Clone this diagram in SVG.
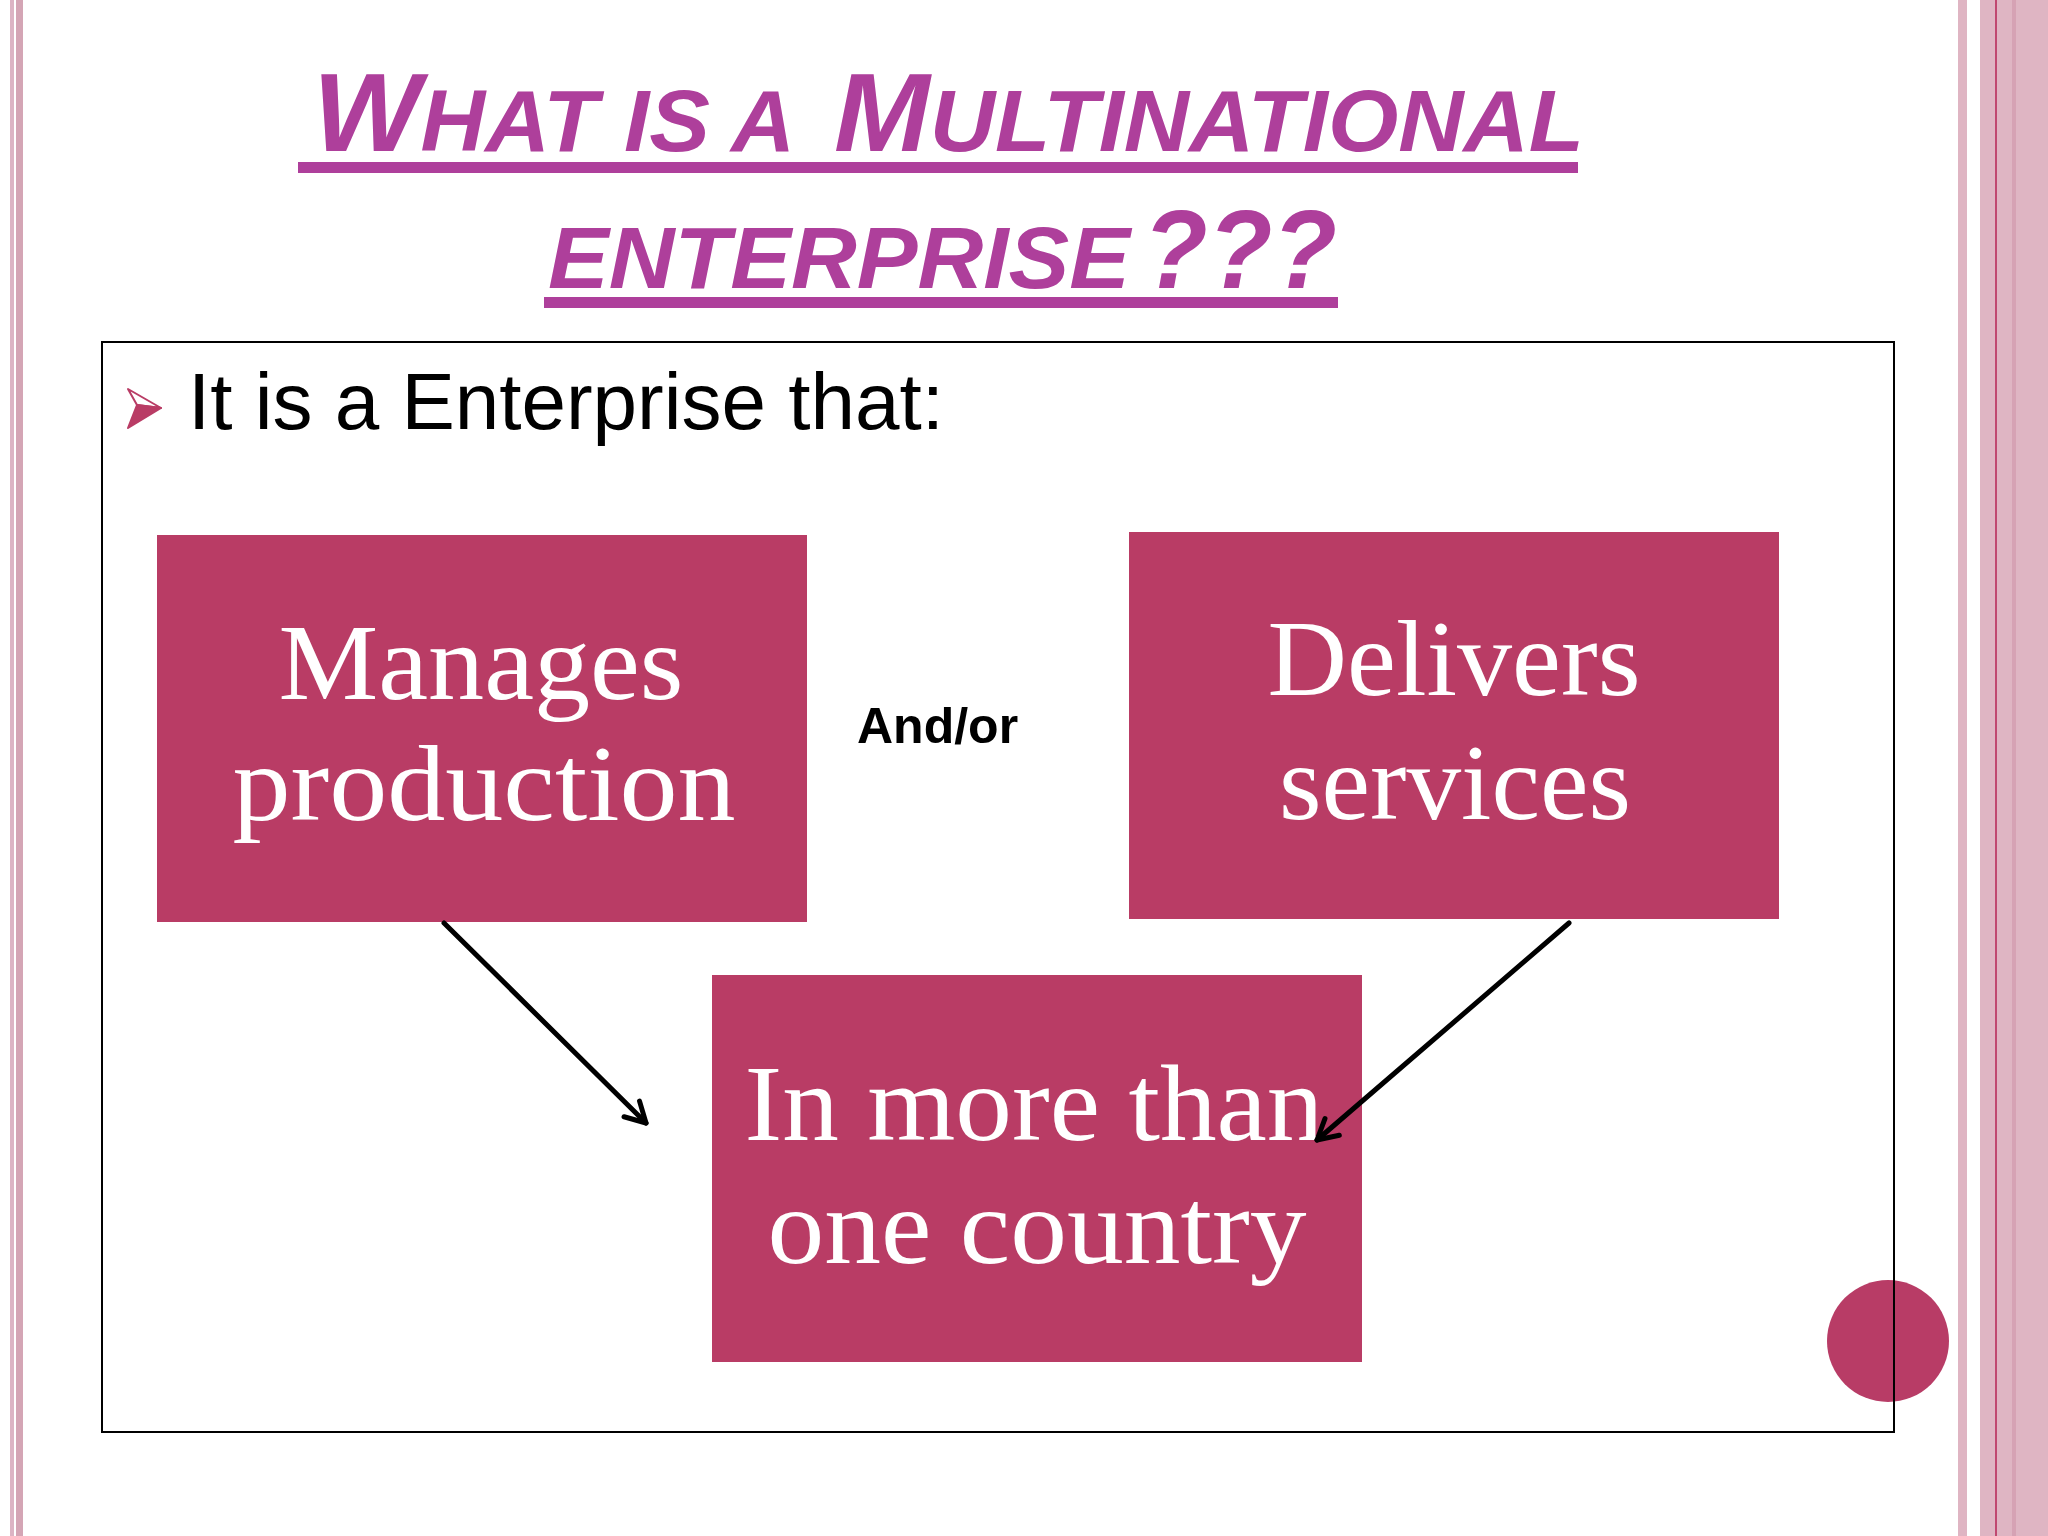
<svg xmlns="http://www.w3.org/2000/svg" width="2048" height="1536" viewBox="0 0 2048 1536">
<style>
.title{font-family:"Liberation Sans",Arial,sans-serif;font-weight:bold;font-style:italic;fill:#ae3f9b}
.box{fill:#b93c65}
.btxt{font-family:"Liberation Serif","Times New Roman",serif;font-size:108px;fill:#ffffff;text-anchor:middle}
.stripe{fill:#dfb5c3}
</style>
<defs>
<marker id="arr" viewBox="0 0 30 30" refX="26" refY="15" markerWidth="30" markerHeight="30" markerUnits="userSpaceOnUse" orient="auto">
<path d="M6,4 L26,15 L6,26" fill="none" stroke="#000" stroke-width="5" stroke-linecap="round" stroke-linejoin="round"/>
</marker>
</defs>
<rect width="2048" height="1536" fill="#ffffff"/>
<g id="frame">
<rect x="10" y="0" width="4" height="1536" fill="#dcb4c4"/>
<rect x="16" y="0" width="7" height="1536" fill="#d4a5b5"/>
<rect x="1958" y="0" width="9" height="1536" class="stripe"/>
<rect x="1980" y="0" width="15" height="1536" class="stripe"/>
<rect x="1995" y="0" width="2" height="1536" fill="#c04870"/>
<rect x="1997" y="0" width="15" height="1536" class="stripe"/>
<rect x="2012" y="0" width="4" height="1536" fill="#d6a2b4"/>
<rect x="2016" y="0" width="32" height="1536" class="stripe"/>
</g>
<g id="title">
<text class="title" x="313" y="151" textLength="285" lengthAdjust="spacingAndGlyphs"><tspan font-size="112">W</tspan><tspan font-size="88">HAT</tspan></text>
<text class="title" x="624" y="151" font-size="88" textLength="86" lengthAdjust="spacingAndGlyphs">IS</text>
<text class="title" x="731" y="151" font-size="88" textLength="64" lengthAdjust="spacingAndGlyphs">A</text>
<text class="title" x="834" y="151" textLength="750" lengthAdjust="spacingAndGlyphs"><tspan font-size="112">M</tspan><tspan font-size="88">ULTINATIONAL</tspan></text>
<rect x="298" y="162" width="1280" height="11" fill="#ae3f9b"/>
<text class="title" x="548" y="288" font-size="88" textLength="582" lengthAdjust="spacingAndGlyphs">ENTERPRISE</text>
<text class="title" x="1143" y="288" font-size="112" textLength="194" lengthAdjust="spacingAndGlyphs">???</text>
<rect x="544" y="297" width="794" height="11" fill="#ae3f9b"/>
</g>
<circle id="dot" cx="1888" cy="1341" r="61" fill="#b83c66"/>
<rect id="content" x="102" y="342" width="1792" height="1090" fill="none" stroke="#000" stroke-width="2"/>
<g id="bullet">
<path d="M128,389 L161,408 L137,405 Z" fill="#ffffff" stroke="#b93c65" stroke-width="2" stroke-linejoin="round"/>
<path d="M137,405 L161,408 L128,428 Z" fill="#b93c65" stroke="#b93c65" stroke-width="2" stroke-linejoin="round"/>
<text x="188" y="429" font-family="'Liberation Sans',Arial,sans-serif" font-size="80" fill="#000">It is a Enterprise that:</text>
</g>
<g id="node-manages">
<rect class="box" x="157" y="535" width="650" height="387"/>
<text class="btxt" x="481" y="699" textLength="405" lengthAdjust="spacingAndGlyphs">Manages</text>
<text class="btxt" x="484" y="820" textLength="503" lengthAdjust="spacingAndGlyphs">production</text>
</g>
<g id="node-delivers">
<rect class="box" x="1129" y="532" width="650" height="387"/>
<text class="btxt" x="1454" y="695" textLength="373" lengthAdjust="spacingAndGlyphs">Delivers</text>
<text class="btxt" x="1455" y="819" textLength="352" lengthAdjust="spacingAndGlyphs">services</text>
</g>
<g id="node-country">
<rect class="box" x="712" y="975" width="650" height="387"/>
<text class="btxt" x="1034" y="1140" textLength="579" lengthAdjust="spacingAndGlyphs">In more than</text>
<text class="btxt" x="1037" y="1263" textLength="539" lengthAdjust="spacingAndGlyphs">one country</text>
</g>
<text id="andor" x="857" y="743" font-family="'Liberation Sans',Arial,sans-serif" font-weight="bold" font-size="50" fill="#000">And/or</text>
<g id="connectors" stroke="#000" stroke-width="5" stroke-linecap="round" fill="none">
<line x1="444" y1="923" x2="646" y2="1123" marker-end="url(#arr)"/>
<line x1="1569" y1="923" x2="1317" y2="1140" marker-end="url(#arr)"/>
</g>
</svg>
